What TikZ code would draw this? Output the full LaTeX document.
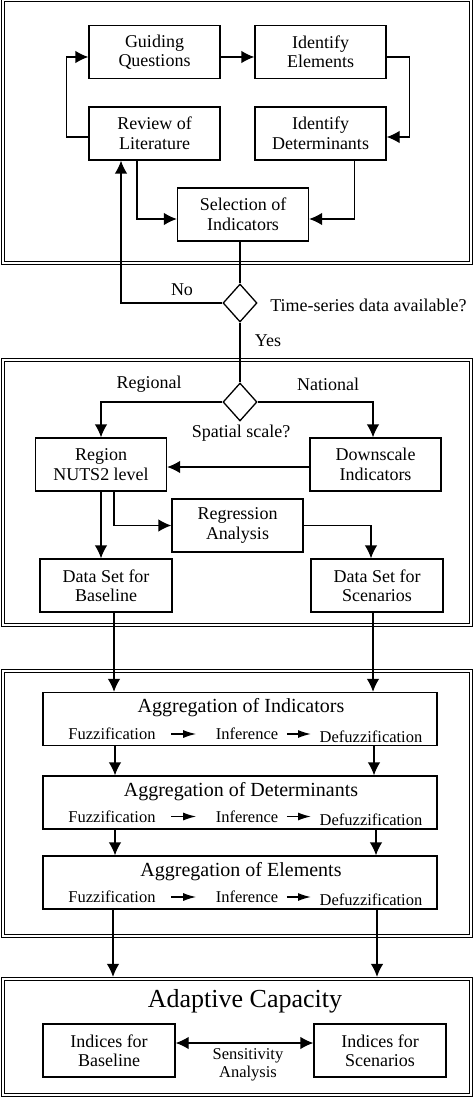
\documentclass[tikz,border=0pt]{standalone}
\usepackage{fontspec}
\setmainfont{Liberation Serif}
\usetikzlibrary{arrows.meta,shapes.geometric,positioning}

\begin{document}
\begin{tikzpicture}[x=1pt,y=1pt,->,>={Latex[length=13pt,width=12.5pt]},line width=1.3pt,
	box/.style={draw,rectangle,minimum width=131pt,minimum height=53pt,inner sep=0pt,align=center,font=\fontsize{18}{19.5}\selectfont},
	decision/.style={draw,diamond,minimum width=34pt,minimum height=38pt,inner sep=0pt},
	panel/.style={draw,double,double distance=2.2pt,line width=1.2pt,inner sep=0pt,minimum width=468pt},
	aggbox/.style={draw,rectangle,minimum width=394pt,minimum height=53pt,inner sep=0pt},
	txt/.style={inner sep=0pt,font=\fontsize{18}{19.5}\selectfont},
	small/.style={inner sep=0pt,align=center,font=\fontsize{16.5}{18}\selectfont},
	title/.style={inner sep=0pt,font=\fontsize{20}{22}\selectfont},
	flow/.style={->,line width=1.5pt,>={Latex[length=13pt,width=8pt]}}]
		\useasboundingbox (0,0) rectangle (474,-1099);
		% frames
		\node[panel,minimum height=263.5pt] (p1) at (237,-131.25) {};
		\node[panel,minimum height=265pt] (p2) at (237,-492.5) {};
		\node[panel,minimum height=265pt] (p3) at (237,-803.5) {};
		\node[panel,minimum height=116pt] (p4) at (237,-1037) {};
		% indicators
		\node[box] (guide) at (154.5,-52) {Guiding\\Questions};
		\node[box] (elem) [node distance=166pt, right of=guide] {Identify\\Elements};
		\node[box] (review) [node distance=81.5pt, below of=guide] {Review of\\Literature};
		\node[box] (determ) [node distance=81.5pt, below of=elem] {Identify\\Determinants};
		\node[box] (select) at (243,-214.5) {Selection of\\Indicators};
		\node[decision] (ts) at (240,-303) {};
		\node[txt] (tsq) [right=12pt of ts, yshift=-2pt] {Time-series data available?};
		\node[txt] (no) at (182,-290) {No};
		\node[txt] (yes) at (268,-341) {Yes};
		% data
		\node[decision] (scale) at (240,-402) {};
		\node[txt] (scaleq) at (241,-433) {Spatial scale?};
		\node[txt] (regional) at (149,-384) {Regional};
		\node[txt] (national) at (328,-384) {National};
		\node[box] (region) at (101,-464.5) {Region\\NUTS2 level};
		\node[box] (down) at (375.5,-464.5) {Downscale\\Indicators};
		\node[box] (regr) at (237.5,-525.5) {Regression\\Analysis};
		\node[box,minimum width=132pt] (base) at (106,-585.5) {Data Set for\\Baseline};
		\node[box,minimum width=132pt] (scen) at (377,-585.5) {Data Set for\\Scenarios};
		% aggregation
		\node[aggbox] (aggind) at (240,-719) {};
		\node[aggbox] (aggdet) [node distance=83.5pt, below of=aggind] {};
		\node[aggbox] (aggele) [node distance=80pt, below of=aggdet] {};
		\node[title] (aggindt) at ([shift={(1,11)}]aggind.center) {Aggregation of Indicators};
		\node[title] (aggdett) at ([shift={(1,11)}]aggdet.center) {Aggregation of Determinants};
		\node[title] (aggelet) at ([shift={(1,11)}]aggele.center) {Aggregation of Elements};
		\node[small] (fuz1) at ([shift={(-128,-15)}]aggind.center) {Fuzzification};
		\node[small] (inf1) at ([shift={(7,-15)}]aggind.center) {Inference};
		\node[small] (def1) at ([shift={(131,-18)}]aggind.center) {Defuzzification};
		\node[small] (fuz2) at ([shift={(-128,-14)}]aggdet.center) {Fuzzification};
		\node[small] (inf2) at ([shift={(7,-14)}]aggdet.center) {Inference};
		\node[small] (def2) at ([shift={(131,-17)}]aggdet.center) {Defuzzification};
		\node[small] (fuz3) at ([shift={(-128,-14.5)}]aggele.center) {Fuzzification};
		\node[small] (inf3) at ([shift={(7,-14.5)}]aggele.center) {Inference};
		\node[small] (def3) at ([shift={(131,-17.5)}]aggele.center) {Defuzzification};
		% results
		\node[inner sep=0pt,font=\fontsize{26}{28}\selectfont] (adapt) at (245,-1001) {Adaptive Capacity};
		\node[box,minimum width=132pt] (ibase) at (109,-1050.5) {Indices for\\Baseline};
		\node[box,minimum width=132pt] (iscen) at (380,-1050.5) {Indices for\\Scenarios};
		\node[small] (sens) at (248,-1065) {Sensitivity\\Analysis};
		% connectors, top
		\draw ([yshift=-5pt]guide.east) -- ([yshift=-5pt]elem.west);
		\draw ([yshift=-5pt]elem.east) -- ++(23,0) |- ([yshift=-3.5pt]determ.east);
		\draw ([yshift=-3.5pt]review.west) -- ++(-22,0) |- ([yshift=-5pt]guide.west);
		\draw ([xshift=-17.5pt]review.south) |- ([yshift=-4.5pt]select.west);
		\draw ([xshift=34pt]determ.south) |- ([yshift=-4.5pt]select.east);
		\draw[-] ([xshift=-3pt]select.south) -- (ts.north);
		\draw (ts.west) -| ([xshift=-33.5pt]review.south);
		\draw[-] (ts.south) -- (scale.north);
		% connectors, data
		\draw (scale.west) -| (region.north);
		\draw (scale.east) -| ([xshift=-2.5pt]down.north);
		\draw ([yshift=-2.5pt]down.west) -- ([yshift=-2.5pt]region.east);
		\draw (region.south) -- (region.south |- base.north);
		\draw ([xshift=13pt]region.south) |- (regr.west);
		\draw (regr.east) -| ([xshift=-6pt]scen.north);
		\draw ([xshift=8pt]base.south) -- ([xshift=8pt]base.south |- aggind.north);
		\draw ([xshift=-4pt]scen.south) -- ([xshift=-4pt]scen.south |- aggind.north);
		% connectors, aggregation
		\draw ([xshift=-125pt]aggind.south) -- ([xshift=-125pt]aggdet.north);
		\draw ([xshift=134pt]aggind.south) -- ([xshift=134pt]aggdet.north);
		\draw ([xshift=-125pt]aggdet.south) -- ([xshift=-125pt]aggele.north);
		\draw ([xshift=136pt]aggdet.south) -- ([xshift=136pt]aggele.north);
		\draw ([xshift=-127pt]aggele.south) -- ([xshift=-127pt,yshift=1.5pt]aggele.south |- p4.north);
		\draw ([xshift=137pt]aggele.south) -- ([xshift=137pt,yshift=1.5pt]aggele.south |- p4.north);
		\draw[flow,shorten <=15pt,shorten >=19pt] (fuz1.east) -- (inf1.west);
		\draw[flow,shorten <=8pt,shorten >=8pt] (inf1.east) -- (inf1.east -| def1.west);
		\draw[flow,shorten <=15pt,shorten >=19pt] (fuz2.east) -- (inf2.west);
		\draw[flow,shorten <=8pt,shorten >=8pt] (inf2.east) -- (inf2.east -| def2.west);
		\draw[flow,shorten <=15pt,shorten >=19pt] (fuz3.east) -- (inf3.west);
		\draw[flow,shorten <=8pt,shorten >=8pt] (inf3.east) -- (inf3.east -| def3.west);
		% connectors, results
		\draw[<->] ([yshift=7.5pt]ibase.east) -- ([yshift=7.5pt]iscen.west);
\end{tikzpicture}
\end{document}
